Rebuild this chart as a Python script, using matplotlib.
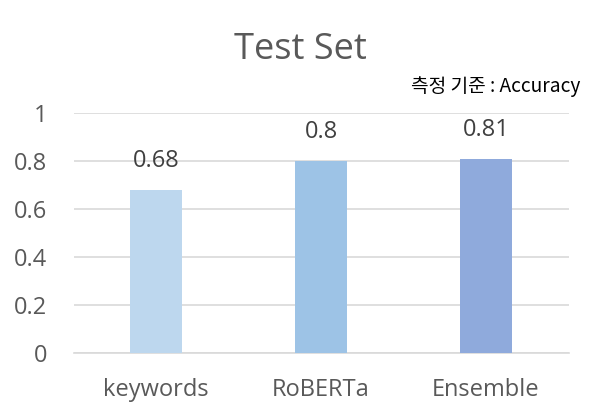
import matplotlib
matplotlib.use("Agg")
import matplotlib.pyplot as plt

# data
models = ["keywords", "RoBERTa", "Ensemble"]
accuracy = [0.68, 0.8, 0.81]
yticks = [0, 0.2, 0.4, 0.6, 0.8, 1]
ytick_labels = ["0", "0.2", "0.4", "0.6", "0.8", "1"]
bar_colors = ["#BDD7EE", "#9DC3E6", "#8FAADC"]

plt.rcParams["font.family"] = ["Open Sans", "DejaVu Sans"]
txt = "#595959"

fig = plt.figure(figsize=(6.01, 4.19), dpi=100)
# plot area: x 73..568 px, y 113..353 px
ax = fig.add_axes([73.5 / 601, 1 - 353 / 419, 495 / 601, 240 / 419])

x = range(len(models))
ax.bar(x, accuracy, width=0.315, color=bar_colors, zorder=3)
for i, v in enumerate(accuracy):
    ax.text(i, v + 0.12, f"{v:g}", ha="center", va="center",
            fontsize=17, color="#404040")

ax.set_xlim(-0.5, 2.5)
ax.set_ylim(0, 1)
ax.set_yticks(yticks)
ax.set_yticklabels(ytick_labels)
ax.set_xticks(list(x))
ax.set_xticklabels(models)
ax.tick_params(axis="both", length=0, labelsize=17, colors=txt)
ax.tick_params(axis="y", pad=19)
ax.tick_params(axis="x", pad=18)
ax.yaxis.grid(True, color="#D9D9D9", linewidth=1.2, zorder=0)
ax.set_axisbelow(True)
for s in ["top", "right", "left"]:
    ax.spines[s].set_visible(False)
ax.spines["bottom"].set_color("#D9D9D9")
ax.spines["bottom"].set_linewidth(1.2)

fig.text(0.5, 1 - 50 / 419, "Test Set", ha="center", va="center",
         fontsize=26, color=txt)
fig.text(580 / 601, 1 - 86 / 419, "측정 기준 : Accuracy", ha="right", va="center",
         fontsize=13.8, color="black", family=["Noto Sans CJK KR", "DejaVu Sans"])

fig.savefig("out.png", dpi=100)
